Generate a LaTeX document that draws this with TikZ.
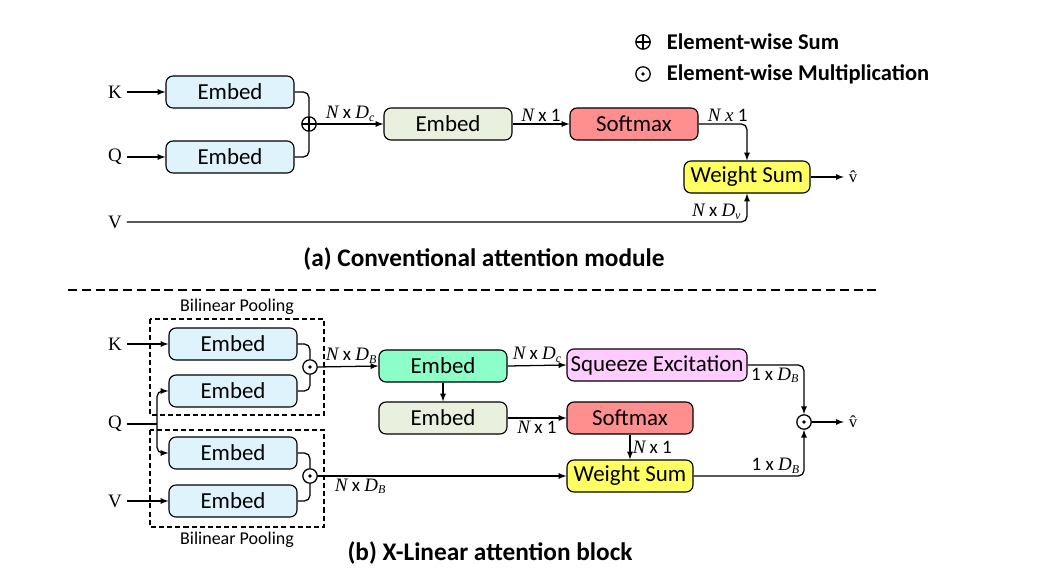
\documentclass[tikz,border=0pt]{standalone}
\usepackage{fontspec}
\setmainfont{Carlito}
\newfontfamily\serif{Liberation Serif}
\usetikzlibrary{positioning}
\definecolor{embedblue}{RGB}{222,243,252}
\definecolor{embedgray}{RGB}{234,240,222}
\definecolor{softred}{RGB}{255,143,143}
\definecolor{wsyellow}{RGB}{255,255,100}
\definecolor{sepink}{RGB}{255,204,255}
\definecolor{embedmint}{RGB}{140,255,200}
% italic serif letters and subscripts for the size labels
\newcommand{\tms}[1]{{\serif\itshape #1}}
\newcommand{\lowidx}[1]{\raisebox{-0.3ex}{\fontsize{8.5}{9}\selectfont\serif\itshape #1}}
\tikzset{
  box/.style={draw, rounded corners=5pt, minimum width=3.2cm, minimum height=0.8cm,
    inner sep=0pt, line width=0.8pt, font=\fontsize{16.3}{19}\selectfont},
  sumop/.style={draw, circle, minimum size=0.36cm, inner sep=0pt, line width=0.9pt,
    path picture={\draw[line width=0.9pt] (path picture bounding box.north) -- (path picture bounding box.south)
      (path picture bounding box.west) -- (path picture bounding box.east);}},
  mulop/.style={draw, circle, minimum size=0.36cm, inner sep=0pt, line width=0.9pt,
    path picture={\fill (path picture bounding box.center) circle (1.4pt);}},
  inlab/.style={font=\serif\fontsize{13.5}{15}\selectfont},
  dimlab/.style={font=\fontsize{13.5}{15}\selectfont, inner sep=1.5pt},
  wire/.style={line width=0.9pt, rounded corners=4pt},
  pool/.style={draw, dash pattern=on 3.6pt off 2.2pt, line width=0.8pt},
  legtxt/.style={anchor=west, font=\bfseries\fontsize{16}{19}\selectfont},
  captxt/.style={font=\bfseries\fontsize{18}{21}\selectfont},
  pooltxt/.style={font=\fontsize{12.8}{15}\selectfont},
}
\begin{document}
\begin{tikzpicture}[>=latex, x=0.025cm, y=-0.025cm]
    \useasboundingbox (0,0) rectangle (1043,570);

    % 1. legend
    \node[sumop] (lsum) at (643,42) {};
    \node[legtxt] (lsumtxt) at (662,42) {Element-wise Sum};
    \node[mulop] (lmul) at (643,74) {};
    \node[legtxt] (lmultxt) at (662,74) {Element-wise Multiplication};

    % 2. conventional attention module
    \node[inlab] (ka) at (115,92) {K};
    \node[inlab] (qa) at (115,157) {Q};
    \node[inlab] (va) at (115,222) {V};
    \node[box, fill=embedblue] (ea1) at (230,92) {Embed};
    \node[box, fill=embedblue] (ea2) at (230,157) {Embed};
    \node[sumop] (suma) at (309,124) {};
    \node[box, fill=embedgray] (ea3) at (448,124) {Embed};
    \node[box, fill=softred] (sma) at (634,124) {Softmax};
    \node[box, fill=wsyellow, minimum width=3.15cm] (wsa) at (747,177) {Weight Sum};
    \node[inlab, font=\serif\fontsize{12}{14}\selectfont] (outa) at (853,177) {\^{v}};

    \draw[wire, ->] (ka) -- (ea1);
    \draw[wire, ->] (qa) -- (ea2);
    \draw[wire] (ea1.east) -| (suma.north);
    \draw[wire] (ea2.east) -| (suma.south);
    \draw[wire, ->] (suma.east) -- node[dimlab, above] {\tms{N} x \tms{D}\lowidx{c}} (ea3.west);
    \draw[wire, ->] (ea3.east) -- node[dimlab, above] {\tms{N} x 1} (sma.west);
    \draw[wire, ->] (sma.east) -| node[dimlab, above, pos=0.3] {\tms{N x} 1} (wsa.north);
    \draw[wire, ->] (wsa.east) -- (outa.west);
    \draw[wire, ->] (va.east) -| node[dimlab, above left, pos=0.497] {\tms{N} x \tms{D}\lowidx{v}} (wsa.south);

    \node[captxt] (capa) at (484,259) {(a) Conventional attention module};

    % 3. separator
    \draw[line width=1pt, dash pattern=on 6.4pt off 3.4pt] (68,290) -- (880,290);

    % 4. X-linear attention block
    \draw[pool] (150,319) rectangle (324,415);
    \draw[pool] (150,430) rectangle (324,527);
    \node[pooltxt] (poolt) at (237,307) {Bilinear Pooling};
    \node[pooltxt] (poolb) at (237,540) {Bilinear Pooling};

    \node[inlab] (kb) at (115,344) {K};
    \node[inlab] (qb) at (115,424) {Q};
    \node[inlab] (vb) at (115,501) {V};
    \node[box, fill=embedblue] (eb1) at (233,344) {Embed};
    \node[box, fill=embedblue] (eb2) at (233,391) {Embed};
    \node[box, fill=embedblue] (eb3) at (233,453) {Embed};
    \node[box, fill=embedblue] (eb4) at (233,501) {Embed};
    \node[mulop] (mb1) at (310,367) {};
    \node[mulop] (mb2) at (310,476) {};
    \coordinate (qsplit) at (157,424);
    \node[box, fill=embedmint] (eb5) at (443,366) {Embed};
    \node[box, fill=embedgray] (eb6) at (443,418) {Embed};
    \node[box, fill=sepink, minimum width=4.5cm] (seb) at (657,365) {Squeeze Excitation};
    \node[box, fill=softred, minimum width=3.15cm] (smb) at (630,418) {Softmax};
    \node[box, fill=wsyellow, minimum width=3.15cm] (wsb) at (630,476) {Weight Sum};
    \node[mulop] (mb3) at (804,422) {};
    \node[inlab, font=\serif\fontsize{12}{14}\selectfont] (outb) at (853,422) {\^{v}};

    \draw[wire, ->] (kb) -- (eb1);
    \draw[wire, ->] (vb) -- (eb4);
    \draw[wire] (qb.east) -- (qsplit);
    \draw[wire, ->] (qsplit) |- (eb2.west);
    \draw[wire, ->] (qsplit) |- (eb3.west);
    \draw[wire] (eb1.east) -| (mb1.north);
    \draw[wire] (eb2.east) -| (mb1.south);
    \draw[wire] (eb3.east) -| (mb2.north);
    \draw[wire] (eb4.east) -| (mb2.south);
    \draw[wire, ->] (mb1.east) -- node[dimlab, above, pos=0.55] {\tms{N} x \tms{D}\lowidx{B}} (eb5.west);
    \draw[wire, ->] (mb2.east) -- node[dimlab, below, pos=0.17] {\tms{N} x \tms{D}\lowidx{B}} (wsb.west);
    \draw[wire, ->] (eb5.south) -- (eb6.north);
    \draw[wire, ->] (eb5.east) -- node[dimlab, above] {\tms{N} x \tms{D}\lowidx{c}} (seb.west);
    \draw[wire, ->] (eb6.east) -- node[dimlab, below] {\tms{N} x 1} (smb.west);
    \draw[wire, ->] (smb.south) -- node[dimlab, right] {\tms{N} x 1} (wsb.north);
    \draw[wire, ->] (seb.east) -| node[dimlab, below left, pos=0.475] {1 x \tms{D}\lowidx{B}} (mb3.north);
    \draw[wire, ->] (wsb.east) -| node[dimlab, above left, pos=0.49] {1 x \tms{D}\lowidx{B}} (mb3.south);
    \draw[wire, ->] (mb3.east) -- (outb.west);

    \node[captxt] (capb) at (490,553) {(b) X-Linear attention block};
\end{tikzpicture}
\end{document}
